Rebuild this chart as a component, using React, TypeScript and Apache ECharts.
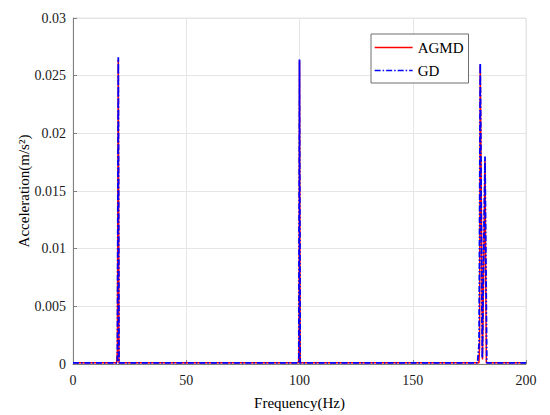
import React, { useEffect, useRef } from "react";
import * as echarts from "echarts";

const seriesNames = ["AGMD", "GD"];
const xTicks = [0, 50, 100, 150, 200];

// [frequency (Hz), acceleration (m/s^2)]
const agmdData: [number, number][] = [
  [0, 0.0001], [19.3, 0.0001], [19.6, 0.0012], [20, 0.0264], [20.3, 0.0001],
  [99.6, 0.0001], [99.8, 0.002], [100, 0.0263], [100.3, 0.0001],
  [179.2, 0.0001], [179.5, 0.0015], [179.8, 0.0259], [180.8, 0.0004],
  [181.9, 0.0176], [182.2, 0.0085], [182.5, 0.0001], [200, 0.0001],
];
const gdData: [number, number][] = [
  [0, 0.0001], [19.6, 0.0001], [20, 0.0266], [20.3, 0.0001],
  [99.7, 0.0001], [100, 0.0264], [100.3, 0.0001],
  [178.6, 0.0001], [179.3, 0.0018], [179.8, 0.0261], [180.7, 0.0005],
  [181.9, 0.018], [182.3, 0.0088], [182.7, 0.0001], [200, 0.0001],
];

const FONT = "'Liberation Serif', 'Times New Roman', serif";

export default function App() {
  const ref = useRef<HTMLDivElement>(null);
  useEffect(() => {
    if (!ref.current) return;
    const chart = echarts.init(ref.current, null, { renderer: "svg" });
    chart.setOption({
      animation: false,
      backgroundColor: "#ffffff",
      textStyle: { fontFamily: FONT },
      grid: {
        left: 73, right: 24, top: 18, bottom: 51,
        show: true, borderColor: "#e3e3e3", borderWidth: 1,
      },
      legend: {
        data: seriesNames,
        orient: "vertical",
        left: 371, top: 34,
        itemWidth: 38, itemHeight: 12, itemGap: 8,
        padding: [6, 5, 5, 3],
        borderColor: "#6e6e6e", borderWidth: 1,
        backgroundColor: "#ffffff",
        itemStyle: { opacity: 0 },
        lineStyle: { width: 1.3 },
        textStyle: { fontFamily: FONT, fontSize: 15, color: "#000" },
      },
      xAxis: {
        type: "value", min: 0, max: 200, interval: 50,
        name: "Frequency(Hz)", nameLocation: "middle", nameGap: 31,
        nameMoveOverlap: false,
        nameTextStyle: { fontFamily: FONT, fontSize: 15, color: "#000" },
        axisLine: { show: true, lineStyle: { color: "#808080" } },
        axisTick: { show: true, inside: true, length: 4, lineStyle: { color: "#808080" } },
        axisLabel: { fontFamily: FONT, fontSize: 14, color: "#1a1a1a", margin: 9 },
        splitLine: { show: true, lineStyle: { color: "#e6e6e6" } },
      },
      yAxis: {
        type: "value", min: 0, max: 0.03, interval: 0.005,
        name: "Acceleration(m/s²)", nameLocation: "middle", nameGap: 42,
        nameMoveOverlap: false,
        nameTextStyle: { fontFamily: FONT, fontSize: 15, color: "#000" },
        axisLine: { show: true, lineStyle: { color: "#808080" } },
        axisTick: { show: true, inside: true, length: 4, lineStyle: { color: "#808080" } },
        axisLabel: { fontFamily: FONT, fontSize: 14, color: "#1a1a1a", margin: 7 },
        splitLine: { show: true, lineStyle: { color: "#e6e6e6" } },
      },
      series: [
        {
          name: seriesNames[0], type: "line", data: agmdData, showSymbol: false,
          symbol: "none",
          lineStyle: { color: "#ff0000", width: 1.5 },
          itemStyle: { color: "#ff0000" },
        },
        {
          name: seriesNames[1], type: "line", data: gdData, showSymbol: false,
          symbol: "none",
          lineStyle: { color: "#0000ff", width: 1.8, type: [6, 2, 1.5, 2] },
          itemStyle: { color: "#0000ff" },
        },
      ],
    });
    return () => chart.dispose();
  }, []);
  return (
    <div
      ref={ref}
      style={{ position: "fixed", left: 0, top: 0, width: 550, height: 415 }}
    />
  );
}
